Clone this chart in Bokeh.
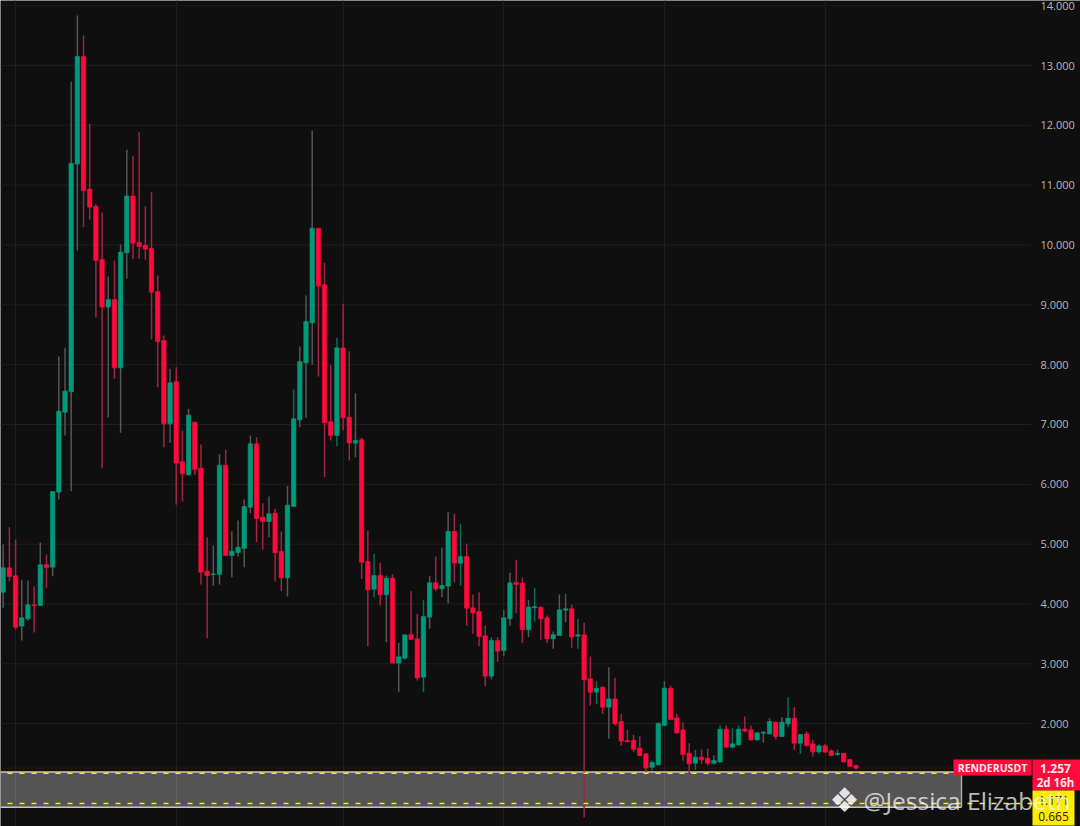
from bokeh.plotting import figure
from bokeh.models import Range1d, LinearAxis, FixedTicker, PrintfTickFormatter, ColumnDataSource, Grid
from bokeh.core.properties import value
from bokeh.embed import file_html
from bokeh.resources import INLINE

opens = [4.198,4.604,4.47,3.63,3.752,3.986,3.975,4.66,4.616,5.869,
 7.206,7.546,11.352,13.151,10.934,10.644,9.758,8.962,9.09,7.947,
 9.87,10.817,10.042,9.998,9.942,9.223,8.404,7.011,7.713,6.376,
 6.159,7.039,6.27,4.549,4.492,4.492,6.32,4.81,4.86,4.927,
 5.618,6.677,5.451,5.379,5.518,4.877,4.437,5.629,7.078,8.03,
 8.70,10.282,9.335,7.045,6.816,8.281,7.122,6.688,6.744,4.71,
 4.248,4.476,4.153,4.432,3.011,3.095,3.49,3.418,2.777,3.78,
 4.354,4.253,4.298,5.212,4.682,4.794,3.936,3.874,3.468,2.794,
 3.39,3.223,3.752,4.359,4.348,3.568,3.936,3.947,3.769,3.418,
 3.473,3.897,3.919,3.462,3.485,2.749,2.526,2.609,2.275,2.414,
 2.036,1.718,1.724,1.59,1.495,1.27,1.311,1.97,2.593,2.097,
 1.896,1.506,1.339,1.44,1.423,1.339,1.361,1.907,1.607,1.646,
 1.907,1.896,1.729,1.84,1.829,2.025,1.785,1.997,2.091,1.673,
 1.829,1.662,1.529,1.629,1.545,1.484,1.506,1.4,1.3]
closes = [4.604,4.459,3.613,3.77,3.986,3.975,4.654,4.61,5.88,7.223,
 7.557,11.368,13.151,10.912,10.633,9.742,8.962,9.09,7.947,9.881,
 10.817,10.031,9.976,9.931,9.212,8.387,7.011,7.696,6.354,6.175,
 7.156,6.248,4.532,4.476,4.504,6.32,4.81,4.883,4.95,5.629,
 6.677,5.429,5.379,5.507,4.855,4.437,5.652,7.095,8.053,8.721,
 10.282,9.313,7.028,6.816,8.281,7.111,6.693,6.733,4.699,4.237,
 4.476,4.153,4.432,3.011,3.117,3.485,3.407,2.766,3.791,4.354,
 4.253,4.309,5.212,4.682,4.794,3.93,3.852,3.457,2.794,3.39,
 3.212,3.769,4.354,4.326,3.568,3.947,3.958,3.752,3.418,3.485,
 3.902,3.919,3.446,3.485,2.732,2.526,2.587,2.275,2.414,1.997,
 1.707,1.696,1.568,1.467,1.261,1.35,2.008,2.593,2.069,1.846,
 1.484,1.328,1.44,1.395,1.339,1.384,1.907,1.607,1.662,1.907,
 1.874,1.729,1.846,1.857,2.036,1.785,2.025,2.091,1.673,1.818,
 1.634,1.529,1.629,1.523,1.467,1.506,1.361,1.283,1.257]
highs = [4.994,5.284,5.078,4.404,4.393,4.292,5.022,4.827,5.88,8.136,
 8.281,12.733,13.836,13.502,12.026,10.689,10.544,9.474,9.742,10.009,
 11.591,11.485,11.886,10.644,10.884,9.491,8.487,7.93,7.958,6.9,
 7.262,7.039,6.666,5.117,4.978,6.498,6.582,5.217,5.395,5.746,
 6.816,6.788,5.685,5.797,5.59,5.212,5.969,7.585,8.303,9.157,
 11.914,10.282,9.703,7.997,8.448,9.018,8.22,7.524,6.777,5.228,
 4.838,4.688,4.476,4.493,3.351,3.485,4.214,3.836,4.069,4.465,
 4.794,4.939,5.535,5.507,5.34,5.005,4.159,4.198,3.64,3.446,
 3.446,3.902,4.521,4.738,4.437,4.069,4.27,3.958,3.808,3.54,
 4.159,4.17,3.986,3.752,3.685,3.122,2.71,2.62,2.944,2.765,
 2.164,1.896,1.813,1.79,1.506,1.384,2.008,2.71,2.637,2.164,
 2.025,1.673,1.562,1.568,1.579,1.473,1.969,1.969,1.93,1.969,
 2.119,1.969,1.857,1.874,2.091,2.036,2.108,2.442,2.275,1.825,
 1.874,1.729,1.651,1.662,1.568,1.568,1.51,1.405,1.317]
lows = [3.936,4.381,3.568,3.39,3.72,3.524,3.97,4.265,4.465,5.746,
 6.816,5.886,9.909,10.299,10.427,8.783,6.27,7.122,7.763,6.86,
 9.435,9.77,9.77,9.753,8.42,7.624,6.621,6.693,5.657,5.713,
 6.148,6.159,4.326,3.429,4.309,4.326,4.81,4.448,4.794,4.615,
 5.518,5.033,4.911,5.117,4.376,4.214,4.125,5.629,6.955,7.111,
 7.997,7.802,6.12,6.733,6.632,6.9,6.398,6.454,4.42,3.295,
 4.114,3.975,3.362,3.011,2.526,3.072,3.407,2.721,2.526,3.585,
 4.214,4.114,4.014,4.365,4.309,3.64,3.501,3.295,2.627,2.738,
 3.028,3.128,3.64,3.847,3.351,3.446,3.708,3.401,3.351,3.251,
 3.473,3.696,3.267,3.251,0.437,2.303,2.331,2.164,1.746,1.969,
 1.634,1.69,1.523,1.456,1.189,1.217,1.3,1.969,2.069,1.829,
 1.384,1.144,1.228,1.328,1.3,1.317,1.345,1.59,1.59,1.635,
 1.857,1.72,1.72,1.679,1.82,1.735,1.78,1.941,1.562,1.495,
 1.62,1.451,1.495,1.515,1.456,1.456,1.35,1.27,1.233]
days = list(range(len(opens)))

price_ticks = [2, 3, 4, 5, 6, 7, 8, 9, 10, 11, 12, 13, 14]
date_grid = [2, 28, 55, 81, 107, 133]
last_price = 1.257
zone_top, zone_bottom = 1.19, 0.603
level_upper, level_lower = 1.171, 0.665
ticker_name = "RENDERUSDT"
countdown = "2d 16h"
watermark = "@Jessica Elizabeth"

BG = "#0f0f0f"; GRID = "#1e1e1e"; UP = "#009a7a"; DOWN = "#ff0a3d"
UP_WICK = "#565656"; UP_WICK_TEAL = "#0b6a58"; DOWN_WICK = "#a32342"; YELLOW = "#ffea00"
teal_wicks = {47, 54, 60, 68, 74, 86, 93, 96, 105, 112, 116, 118, 119, 124, 127, 129, 132, 135}

def y_of(px):  # window pixel row to price, for overlay placement only
    return (842.8 - px) / 59.83

def x_of(px):  # window pixel column to bar index, for overlay placement only
    return (px - 2.7) / 6.18

p = figure(width=1080, height=826, output_backend="svg", toolbar_location=None,
           x_range=Range1d(x_of(0), x_of(1080)), y_range=Range1d(y_of(826), y_of(0)),
           background_fill_color=BG, border_fill_color=BG, outline_line_color=None,
           min_border=0, x_axis_location=None, y_axis_location=None)
p.center = []
p.outline_line_alpha = 0
p.outline_line_width = 0

axis = LinearAxis(ticker=FixedTicker(ticks=price_ticks),
                  formatter=PrintfTickFormatter(format="%.3f"),
                  axis_line_color=None, major_tick_line_color=None, minor_tick_line_color=None,
                  major_tick_in=0, major_tick_out=0, minor_tick_in=0, minor_tick_out=0,
                  major_label_standoff=-40,
                  major_label_text_color="#b8b8b8", major_label_text_font="Open Sans",
                  major_label_text_font_size="11px", major_label_text_font_style="normal")
p.add_layout(axis, "right")

p.add_layout(Grid(dimension=0, ticker=FixedTicker(ticks=date_grid), grid_line_color=GRID, grid_line_width=1))
# horizontal grid stops before the price scale, as in the reference
p.segment(x0=[x_of(0)] * len(price_ticks), x1=[x_of(1031)] * len(price_ticks), y0=price_ticks, y1=price_ticks,
          line_color=GRID, line_width=1)

# position zone
zone_end = x_of(961)
p.quad(left=[x_of(-5)], right=[zone_end], top=[zone_top], bottom=[zone_bottom], fill_color="#ffffff", fill_alpha=0.29,
       line_color=None)
p.segment(x0=[x_of(-5)] * 2, x1=[zone_end] * 2, y0=[zone_top, zone_bottom], y1=[zone_top, zone_bottom],
          line_color="#c8c8c8", line_width=1.5)
p.segment(x0=[zone_end], x1=[zone_end], y0=[zone_bottom], y1=[zone_top], line_color="#b0b0b0", line_width=1.4)
p.segment(x0=[x_of(-5)], x1=[x_of(953)], y0=[last_price], y1=[last_price], line_color=DOWN, line_alpha=0.6,
          line_width=1, line_dash="1 3")

ups = [c >= o for o, c in zip(opens, closes)]
wick_col = [(UP_WICK_TEAL if i in teal_wicks else UP_WICK) if u else DOWN_WICK for i, u in enumerate(ups)]
src = ColumnDataSource(dict(x=days, h=highs, l=lows, o=opens, c=closes,
                            top=[max(a, b) for a, b in zip(opens, closes)],
                            bot=[min(a, b) for a, b in zip(opens, closes)],
                            wick=wick_col, body=[UP if u else DOWN for u in ups]))
p.segment(x0="x", x1="x", y0="l", y1="h", source=src, line_color="wick", line_width=1.5)
p.vbar(x="x", width=0.72, top="top", bottom="bot", source=src, fill_color="body", line_color="body", line_width=0.6)

p.segment(x0=[x_of(-5)], x1=[x_of(958)], y0=[level_upper], y1=[level_upper], line_color=YELLOW, line_width=1.4,
          line_dash="5 7")
p.segment(x0=[x_of(-5)], x1=[x_of(1032)], y0=[level_lower], y1=[level_lower], line_color=YELLOW, line_width=1.4,
          line_dash="5 7")

def tag(x0, x1, px0, px1, color):
    p.quad(left=[x_of(x0)], right=[x_of(x1)], top=[y_of(px0)], bottom=[y_of(px1)], fill_color=color, line_color=None)

def text(x, px, s, color, size, align="center", style="bold", alpha=1.0, font="Open Sans"):
    p.text(x=[x_of(x)], y=[y_of(px)], text=[s], text_color=color, text_font_size=size, text_align=align,
           text_baseline="middle", text_font=value(font), text_font_style=style, text_alpha=alpha)

tag(953, 1031, 759, 775, DOWN)
tag(1032, 1085, 759, 790, DOWN)
tag(1032, 1074, 790, 825, YELLOW)
text(992, 767.5, ticker_name, "#ffe6ea", "10.5px")
text(1055, 767.5, f"{last_price:.3f}", "#ffe6ea", "12px")
text(1055, 782, countdown, "#ffe6ea", "11.5px")
text(1053, 800, f"{level_upper:.3f}", "#333000", "12px", style="normal")
text(1053, 816, f"{level_lower:.3f}", "#222000", "12px", style="normal")

text(844, 799, "\u2756", "#ffffff", "34px", alpha=0.85, style="normal", font="DejaVu Sans")
text(863, 800, watermark, "#ffffff", "24.5px", align="left", style="normal", alpha=0.72)

open("out.html", "w").write(file_html(p, INLINE))
